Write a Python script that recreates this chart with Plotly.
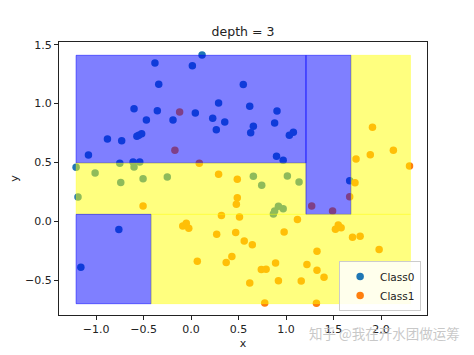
import plotly.graph_objects as go

# ---- data ----
class0_x = [-0.38, -0.34, -0.60, -0.355, -0.47, -0.19, -0.52, -0.55, -0.57, -0.88,
            -0.73, -1.08, -1.21, -0.75, -0.61, -0.54, -0.60, -1.01, -0.74, -0.505,
            -0.25, 0.116, 0.014, 0.045, 0.228, 0.29, 0.266, 0.355, 0.55, 0.618,
            0.905, 0.656, 0.628, 0.88, 1.077, 1.035, 0.90, 0.97, 0.656, 1.014,
            1.137, 1.67, -1.19, -0.76, -1.16, 0.744, 0.92, 0.97, 0.88, 0.867]
class0_y = [1.345, 1.164, 0.957, 0.940, 0.861, 0.861, 0.744, 0.731, 0.722, 0.700,
            0.685, 0.563, 0.459, 0.493, 0.504, 0.504, 0.461, 0.410, 0.330, 0.362,
            0.377, 1.413, 1.322, 0.920, 0.875, 1.005, 0.778, 0.844, 1.161, 0.977,
            0.937, 0.807, 0.753, 0.835, 0.756, 0.731, 0.552, 0.518, 0.382, 0.385,
            0.334, 0.345, 0.206, -0.070, -0.390, 0.306, 0.127, 0.107, 0.088, 0.062]

class1_x = [-0.12, -0.17, 0.087, 0.29, 0.487, 1.91, 1.737, 1.887, 2.13, 2.30,
            -0.505, -0.087, -0.05, -0.024, 0.066, 0.32, 0.27, 0.43, 0.37, 0.47,
            0.487, 0.477, 0.51, 1.12, 0.98, 0.56, 0.645, 0.89, 0.74, 0.79,
            0.618, 0.92, 1.16, 0.776, 1.22, 1.326, 1.326, 1.40, 1.32, 1.27,
            1.49, 1.67, 1.726, 1.52, 1.55, 1.58, 1.70, 1.78, 1.98]
class1_y = [0.929, 0.603, 0.493, 0.400, 0.358, 0.798, 0.529, 0.566, 0.603, 0.470,
            0.130, -0.040, -0.017, -0.060, -0.340, 0.050, -0.110, -0.300, -0.350, -0.095,
            0.200, 0.144, 0.036, 0.015, -0.090, -0.167, -0.199, -0.354, -0.410, -0.408,
            -0.524, -0.505, -0.507, -0.695, -0.367, -0.255, -0.416, -0.476, -0.697, 0.130,
            0.088, 0.209, 0.328, -0.068, -0.031, -0.054, -0.136, -0.127, -0.240]

# decision-tree leaf regions (depth = 3)
region_x0 = [-1.21, -1.21, 1.21, 1.684, -1.21, -0.42]
region_x1 = [1.21, 1.21, 1.684, 2.31, -0.42, 2.31]
region_y0 = [0.495, 0.059, 0.059, 0.059, -0.70, -0.70]
region_y1 = [1.41, 0.495, 1.41, 1.41, 0.059, 0.059]
region_cls = [0, 1, 0, 1, 0, 1]

x_ticks = [-1.0, -0.5, 0.0, 0.5, 1.0, 1.5, 2.0]
y_ticks = [-0.5, 0.0, 0.5, 1.0, 1.5]

# ---- figure ----
fig = go.Figure()
fig.add_trace(go.Scatter(x=class0_x, y=class0_y, mode="markers", name="Class0",
                         marker=dict(color="#1f77b4", size=7.5, line=dict(width=0))))
fig.add_trace(go.Scatter(x=class1_x, y=class1_y, mode="markers", name="Class1",
                         marker=dict(color="#ff7f0e", size=7.5, line=dict(width=0))))

region_fill = {0: "rgba(0,0,255,0.5)", 1: "rgba(255,255,0,0.5)"}
region_edge = {0: "rgba(0,0,255,0.5)", 1: "rgba(255,255,0,0.3)"}
for x0, x1, y0, y1, c in zip(region_x0, region_x1, region_y0, region_y1, region_cls):
    fig.add_shape(type="rect", xref="x", yref="y", x0=x0, x1=x1, y0=y0, y1=y1,
                  fillcolor=region_fill[c], line=dict(color=region_edge[c], width=1),
                  layer="above")

font = "DejaVu Sans, sans-serif"
fmt = lambda v: f"{v:.1f}".replace("-", "\u2212")
axis_common = dict(showgrid=False, zeroline=False, showline=True, mirror=True,
                   linecolor="#222", linewidth=1, ticks="outside", ticklen=4,
                   tickcolor="#222", automargin=False,
                   tickfont=dict(size=11, color="#222", family=font))
fig.update_xaxes(range=[-1.39, 2.484], tickvals=x_ticks, ticktext=[fmt(v) for v in x_ticks],
                 title=dict(text="x", font=dict(size=11, color="#222", family=font), standoff=4),
                 **axis_common)
fig.update_yaxes(range=[-0.796, 1.523], tickvals=y_ticks, ticktext=[fmt(v) for v in y_ticks],
                 title=dict(text="y", font=dict(size=11, color="#222", family=font), standoff=6),
                 **axis_common)

# page body has an 8px default margin, so the figure is sized to fit inside it
W, H = 466, 347
fig.update_layout(
    width=W, height=H,
    margin=dict(l=51, r=47, t=34, b=40),
    paper_bgcolor="white", plot_bgcolor="white",
    font=dict(family=font, color="#222"),
    title=dict(text="depth = 3", x=235 / W, xanchor="center", y=1 - 24 / H,
               yanchor="middle", font=dict(size=12.5, family=font, color="#222")),
    showlegend=True,
    legend=dict(x=0.984, y=0.015, xanchor="right", yanchor="bottom",
                bgcolor="rgba(255,255,255,0.85)", bordercolor="#ccc", borderwidth=1,
                font=dict(size=10.5, family=font, color="#222"), itemwidth=30,
                tracegroupgap=0),
)

fig.add_annotation(text="知乎 @我在开水团做运筹", xref="paper", yref="paper",
                   x=(462 - 59) / 368, y=-(333 - 315) / 273, xanchor="right", yanchor="middle",
                   showarrow=False,
                   font=dict(size=13.5, color="rgba(190,190,190,0.85)",
                             family="Noto Sans CJK SC, sans-serif"))

fig.write_html("out.html")
